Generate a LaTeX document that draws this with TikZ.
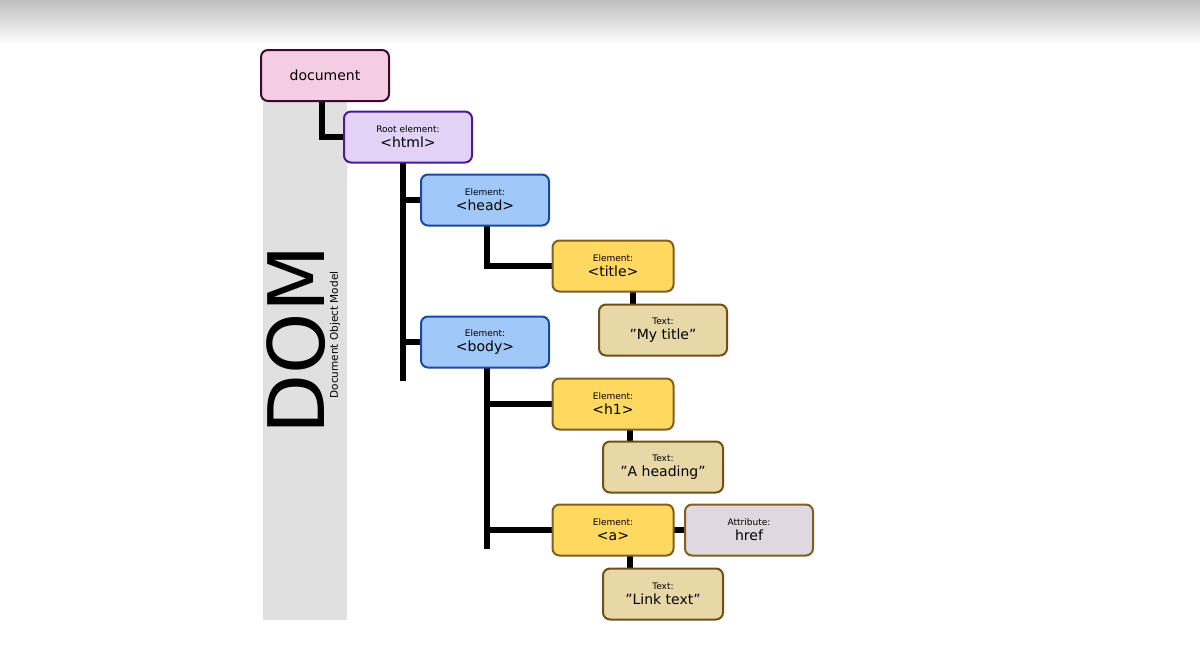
\documentclass[tikz,border=0pt]{standalone}
\usepackage{fontspec}
\setmainfont{DejaVu Sans}
\begin{document}
\begin{tikzpicture}[x=1pt,y=-1pt,
 box/.style={draw,line width=2pt,rounded corners=7pt,minimum width=#1,minimum height=51pt,align=center,inner sep=1pt},
 box/.default=128pt,
 con/.style={line width=6pt},
 lbl/.style={font=\fontsize{9}{10}\selectfont},
]
\definecolor{pk}{HTML}{F4CCE4}\definecolor{pkd}{HTML}{3A0A2A}
\definecolor{vi}{HTML}{E2D2F8}\definecolor{vid}{HTML}{4A1A9A}
\definecolor{bl}{HTML}{A0C8F8}\definecolor{bld}{HTML}{1A4AA0}
\definecolor{ye}{HTML}{FFD860}\definecolor{yed}{HTML}{806020}
\definecolor{tx}{HTML}{E8D8A8}\definecolor{txd}{HTML}{705018}
\definecolor{at}{HTML}{E0D8E0}
\useasboundingbox (0,0) rectangle (1200,659);
\shade[top color=black!25,bottom color=white] (0,0) rectangle (1200,45);
\fill[black!12] (263,101) rectangle (347,620);
\node[rotate=90,font=\fontsize{78}{78}\selectfont,inner sep=0] (dom) at (296,340) {DOM};
\node[rotate=90,font=\fontsize{10.5}{11}\selectfont,inner sep=0] (dom2) at (335,335) {Document Object Model};
% connectors
\coordinate (c1) at (322,137);
\draw[con] (322,98) -- (c1) -- (350,137);
\draw[con] (403,160) -- (403,381);
\draw[con] (403,200) -- (425,200);
\draw[con] (403,342) -- (425,342);
\draw[con] (487,223) -- (487,266) -- (557,266);
\draw[con] (633,289) -- (633,307);
\draw[con] (487,365) -- (487,549);
\draw[con] (487,404) -- (557,404);
\draw[con] (487,530) -- (557,530);
\draw[con] (630,427) -- (630,444);
\draw[con] (630,553) -- (630,571);
\draw[con] (670,530) -- (689,530);
% nodes
\node[box,fill=pk,draw=pkd,font=\fontsize{14}{16}\selectfont] (doc) at (325,75.5) {document};
\node[box,fill=vi,draw=vid] (html) at (408,137) {\fontsize{9}{11}\selectfont Root element:\\[3pt]\fontsize{14}{16}\selectfont <html>};
\node[box,fill=bl,draw=bld] (head) at (485,200) {\fontsize{9}{11}\selectfont Element:\\[3pt]\fontsize{14}{16}\selectfont <head>};
\node[box,fill=bl,draw=bld] (body) at (485,342) {\fontsize{9}{11}\selectfont Element:\\[3pt]\fontsize{14}{16}\selectfont <body>};
\node[box=121pt,fill=ye,draw=yed] (title) at (613,266) {\fontsize{9}{11}\selectfont Element:\\[3pt]\fontsize{14}{16}\selectfont <title>};
\node[box,fill=tx,draw=txd] (mt) at (663,330) {\fontsize{9}{11}\selectfont Text:\\[3pt]\fontsize{14}{16}\selectfont "My title"};
\node[box=121pt,fill=ye,draw=yed] (h1) at (613,404) {\fontsize{9}{11}\selectfont Element:\\[3pt]\fontsize{14}{16}\selectfont <h1>};
\node[box=120pt,fill=tx,draw=txd] (ah) at (663,467) {\fontsize{9}{11}\selectfont Text:\\[3pt]\fontsize{14}{16}\selectfont "A heading"};
\node[box=121pt,fill=ye,draw=yed] (a) at (613,530) {\fontsize{9}{11}\selectfont Element:\\[3pt]\fontsize{14}{16}\selectfont <a>};
\node[box,fill=at,draw=yed] (href) at (749,530) {\fontsize{9}{11}\selectfont Attribute:\\[3pt]\fontsize{14}{16}\selectfont href};
\node[box=120pt,fill=tx,draw=txd] (lt) at (663,594) {\fontsize{9}{11}\selectfont Text:\\[3pt]\fontsize{14}{16}\selectfont "Link text"};
\end{tikzpicture}
\end{document}
